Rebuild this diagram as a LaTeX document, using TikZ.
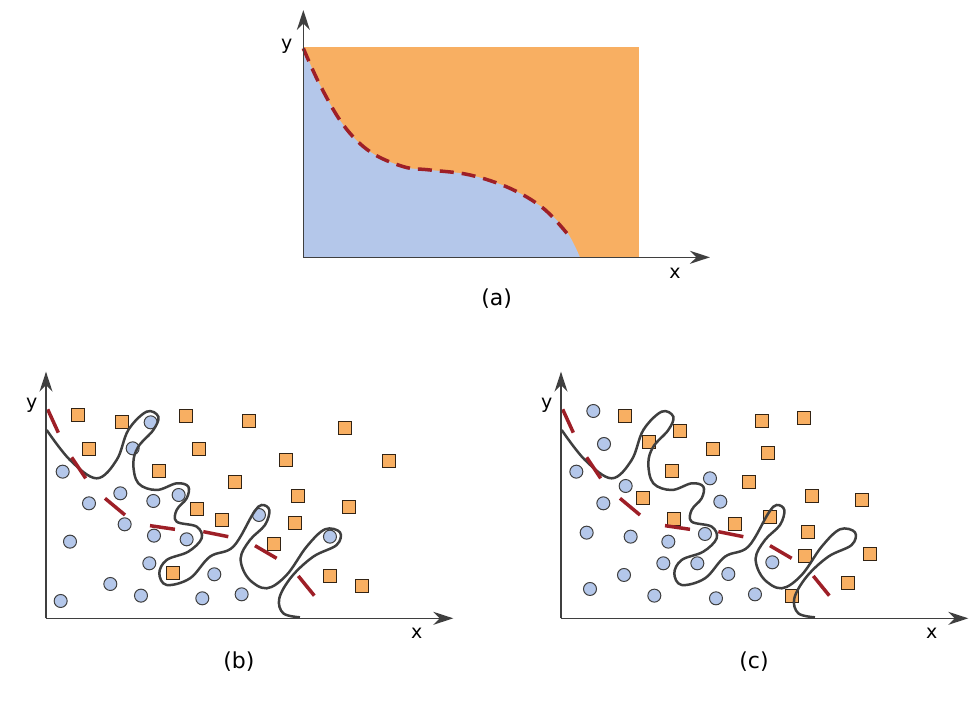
\documentclass[tikz,border=0pt]{standalone}
\usepackage{fontspec}
\setmainfont{DejaVu Sans}
\usetikzlibrary{arrows.meta}
\definecolor{myor}{HTML}{F8AF62}
\definecolor{mybl}{HTML}{B4C7EA}
\definecolor{myred}{HTML}{9E1F27}
\definecolor{mygr}{HTML}{3F3F3F}
\tikzset{
 axis/.style={line width=1.5pt, draw=mygr, -{Stealth[length=20pt,width=13pt]}},
 pt/.style={circle, draw=mygr, fill=mybl, line width=1pt, minimum size=13pt, inner sep=0pt},
 sq/.style={rectangle, draw=black!80!myor, fill=myor, line width=1pt, minimum size=13pt, inner sep=0pt},
 wig/.style={draw=mygr, line width=2.5pt},
 rd/.style={draw=myred, line width=3.5pt},
 lab/.style={font=\fontsize{19}{19}\selectfont, inner sep=0pt},
 captxt/.style={font=\fontsize{22}{22}\selectfont, inner sep=0pt}
}
\newcommand{\wiggly}{\draw[wig] plot[smooth, tension=0.6] coordinates {(80,180) (150,270) (230,325) (290,270) (325,180) (380,125) (415,140) (400,180) (355,230) (340,280) (355,340) (410,360) (470,340) (505,350) (500,385) (470,420) (470,455) (530,470) (545,505) (505,545) (440,570) (418,610) (440,645) (510,625) (570,560) (640,530) (700,430) (725,405) (748,420) (735,465) (690,510) (662,565) (685,625) (740,655) (800,615) (860,530) (915,478) (960,487) (950,525) (880,560) (815,620) (778,685) (790,730) (840,742)};}
\newcommand{\reddash}{\foreach \a/\b in {{(83,118)}/{(115,188)},{(155,262)}/{(197,325)},{(255,385)}/{(315,435)},{(390,467)}/{(465,478)},{(550,485)}/{(625,500)},{(705,527)}/{(770,565)},{(835,618)}/{(883,677)}} \draw[rd] \a -- \b;}
\begin{document}
\begin{tikzpicture}[x=1pt,y=-1pt]
\useasboundingbox (0,0) rectangle (976,714);
% panel a
\begin{scope}[shift={(270pt,-5pt)}, x=0.3333pt, y=-0.3333pt]
\fill[myor] (100,125) rectangle (1108,757);
\fill[mybl] (100,757) -- plot[smooth, tension=0.6] coordinates {(100,130) (150,240) (220,360) (300,440) (400,485) (480,495) (600,510) (720,550) (820,610) (890,680) (930,757)} -- cycle;
\draw[myred, line width=3.5pt, dash pattern=on 14pt off 8pt] plot[smooth, tension=0.6] coordinates {(100,130) (150,240) (220,360) (300,440) (400,485) (480,495) (600,510) (720,550) (820,610) (895,690)};
\coordinate (ao) at (100,757);
\coordinate (ay) at (100,15);
\coordinate (ax) at (1320,757);
\draw[axis] (ao) -- (ay);
\draw[axis] (ao) -- (ax);
\node[lab] (ylab) at (50,125) {y};
\node[lab] (xlab) at (1215,805) {x};
\node[captxt] (capa) at (680,880) {(a)};
\end{scope}
% panel b
\begin{scope}[shift={(20pt,-370pt)}, x=0.3333pt, y=-0.3333pt]
\foreach \p [count=\i] in {(173,135),(305,155),(498,137),(686,153),(974,175),(208,238),(536,236),(798,270),(1106,272),(416,302),(644,335),(834,377),(987,412),(530,416),(605,449),(826,460),(763,523),(460,610),(930,617),(1025,648)} \node[sq] (bs\i) at \p {};
\foreach \p [count=\i] in {(392,157),(338,235),(128,305),(301,370),(207,400),(400,393),(476,375),(314,463),(717,435),(150,515),(402,497),(500,508),(930,500),(388,580),(583,613),(271,642),(363,677),(547,685),(665,673),(122,693)} \node[pt] (bc\i) at \p {};
\wiggly
\reddash
\coordinate (bo) at (78,745);
\coordinate (by) at (78,5);
\coordinate (bx) at (1300,745);
\draw[axis] (bo) -- (by);
\draw[axis] (bo) -- (bx);
\node[lab] (bylab) at (35,105) {y};
\node[lab] (bxlab) at (1190,790) {x};
\node[captxt] (capb) at (657,875) {(b)};
\end{scope}
% panel c
\begin{scope}[shift={(535pt,-370pt)}, x=0.3333pt, y=-0.3333pt]
\foreach \p [count=\i] in {(270,137),(434,182),(342,215),(534,236),(682,153),(806,143),(700,250),(412,302),(641,335),(325,383),(418,446),(600,462),(705,442),(830,377),(980,389),(818,485),(809,557),(1006,553),(940,640),(770,677)} \node[sq] (cs\i) at \p {};
\foreach \p [count=\i] in {(175,123),(207,222),(124,305),(272,348),(205,400),(155,488),(287,500),(400,515),(385,580),(267,615),(165,657),(358,677),(525,325),(556,395),(510,492),(487,580),(580,612),(543,685),(660,673),(712,577)} \node[pt] (cc\i) at \p {};
\wiggly
\reddash
\coordinate (co) at (78,745);
\coordinate (cy) at (78,5);
\coordinate (cx) at (1300,745);
\draw[axis] (co) -- (cy);
\draw[axis] (co) -- (cx);
\node[lab] (cylab) at (35,105) {y};
\node[lab] (cxlab) at (1190,790) {x};
\node[captxt] (capc) at (657,875) {(c)};
\end{scope}
\end{tikzpicture}
\end{document}
